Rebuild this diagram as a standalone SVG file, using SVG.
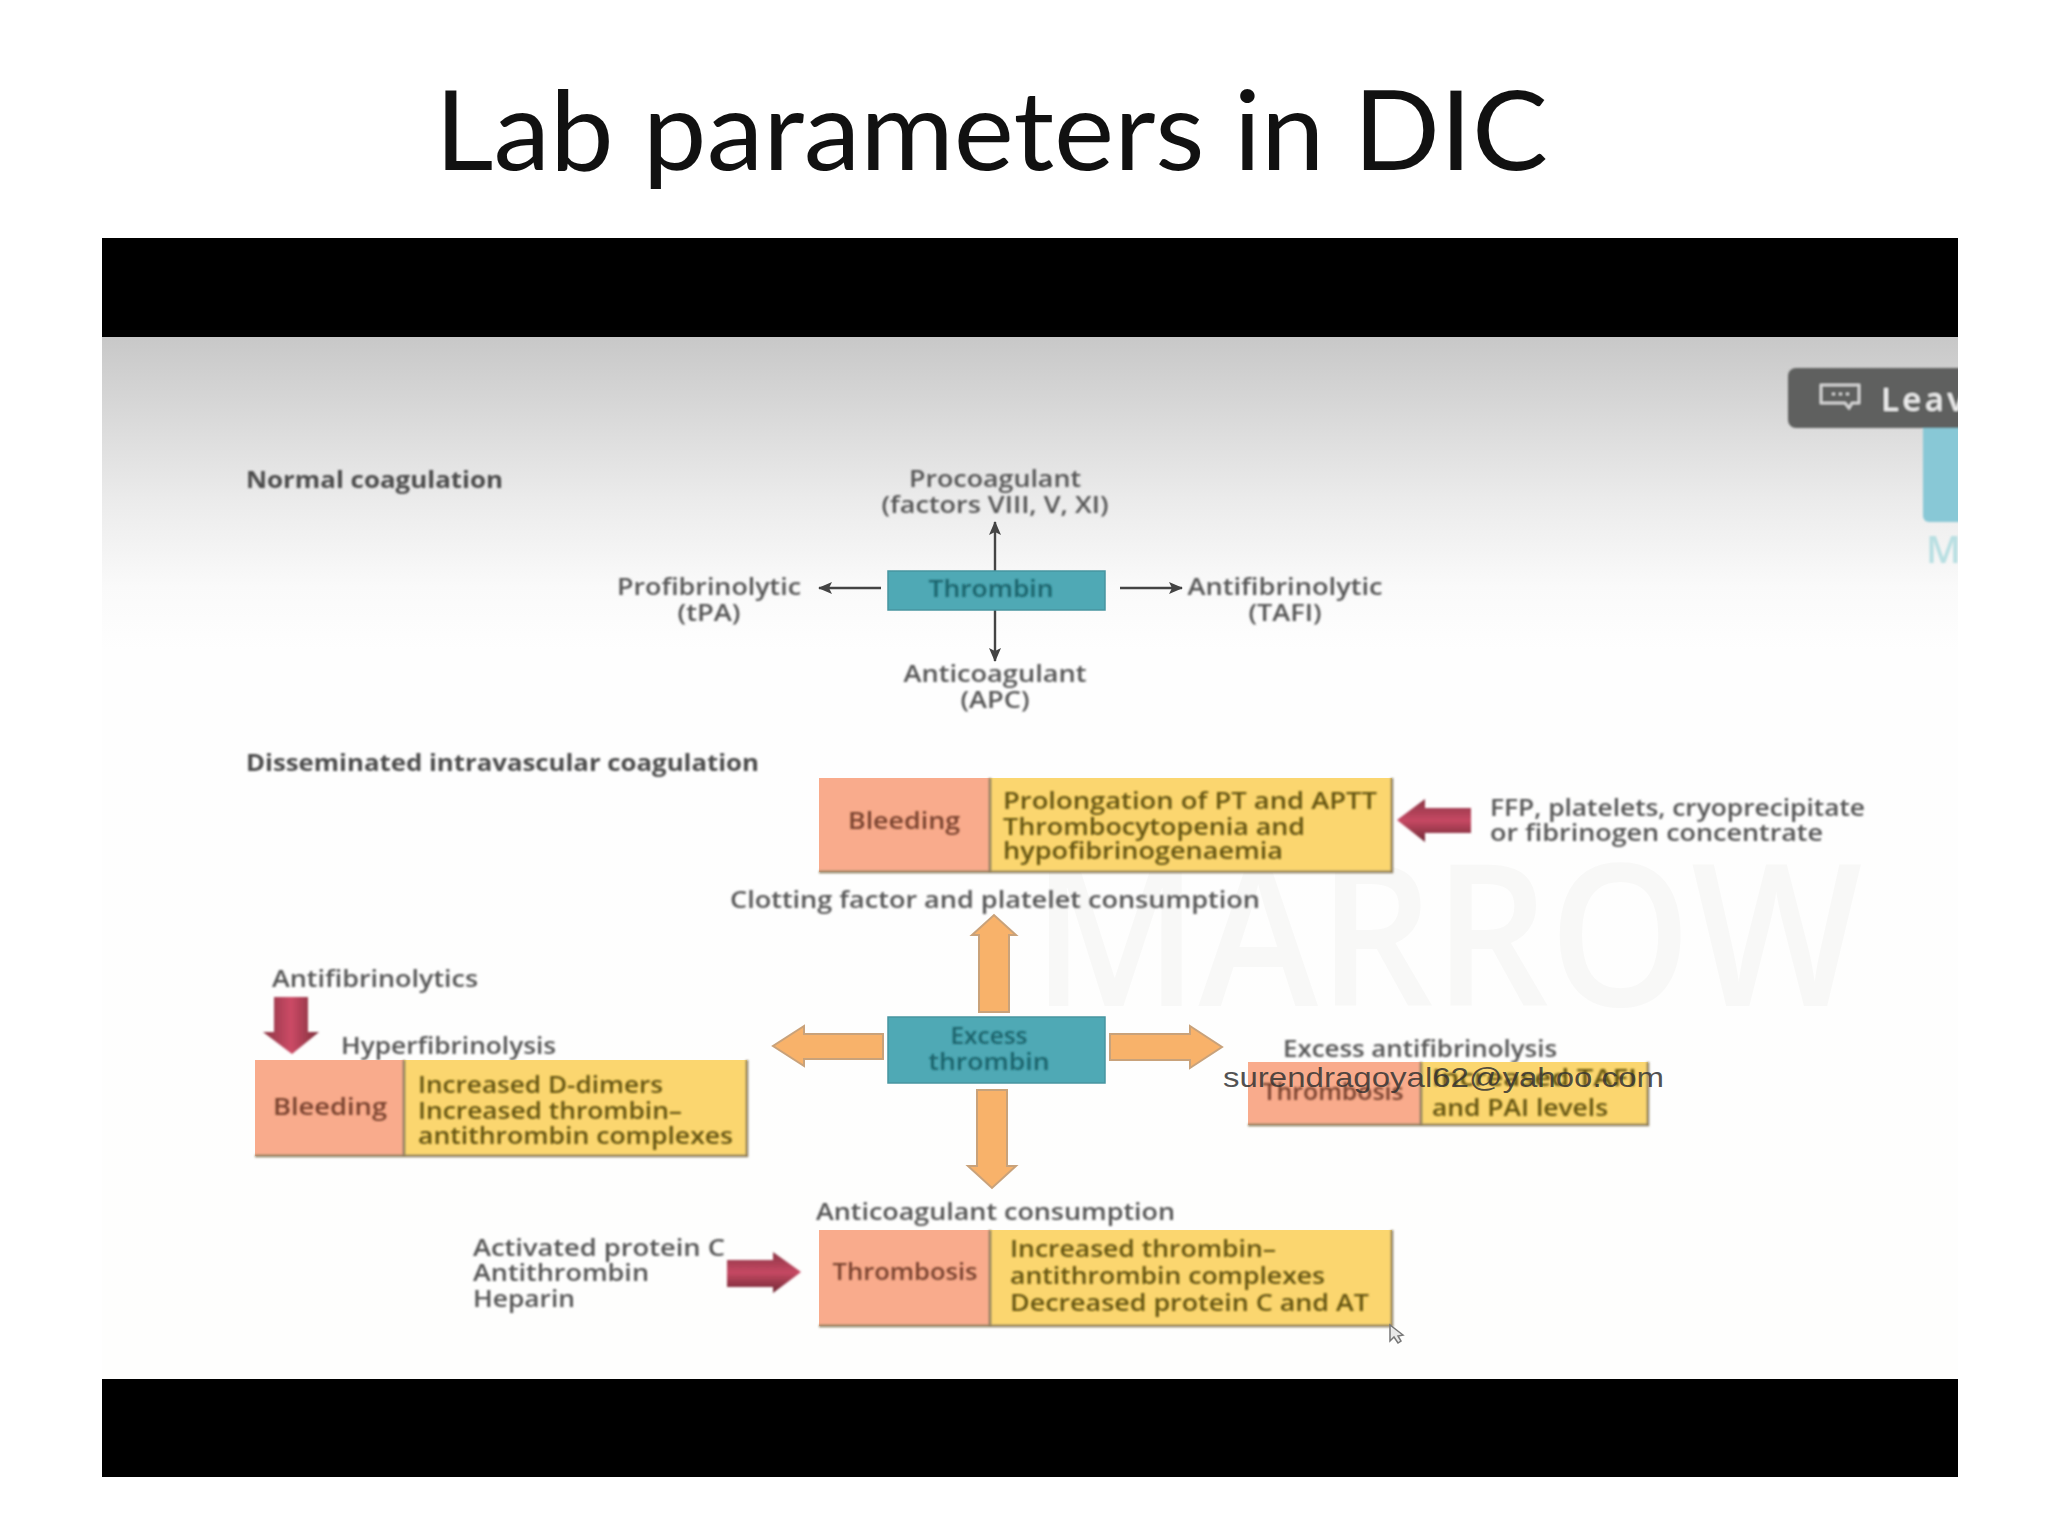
<svg xmlns="http://www.w3.org/2000/svg" width="2048" height="1536" viewBox="0 0 2048 1536">
<style>
.t{font-family:"Open Sans","Liberation Sans",sans-serif;font-size:24px;font-weight:600;fill:#555;filter:url(#soft)}
.h{font-weight:700;fill:#4c4c4c}
.m{text-anchor:middle}
.y{fill:#655510}
.s{fill:#79432f}
.c{fill:#1a646c}
.sal{fill:#f9ab8c}
.yel{fill:#fbd66f}
.teal{fill:#4fa9b5;stroke:#4795a0;stroke-width:1.5}
.edge{stroke:#8f8060;stroke-width:2.5;fill:none;filter:url(#soft2)}
.or{fill:#f8b26a;stroke:#c9a27a;stroke-width:2}
.thin{stroke:#444;stroke-width:2.4;fill:none;marker-end:url(#tip)}
</style>
<defs>
<filter id="soft" x="-5%" y="-20%" width="110%" height="140%"><feGaussianBlur stdDeviation="0.9"/></filter>
<filter id="soft2" x="-5%" y="-5%" width="110%" height="110%"><feGaussianBlur stdDeviation="0.8"/></filter>
<marker id="tip" markerUnits="userSpaceOnUse" markerWidth="14" markerHeight="12" refX="13" refY="6" orient="auto"><path d="M0 0L14 6L0 12L3 6Z" fill="#444"/></marker>
<linearGradient id="bg" x1="0" y1="337" x2="0" y2="1379" gradientUnits="userSpaceOnUse">
<stop offset="0" stop-color="#c8c8c8"/><stop offset="0.16" stop-color="#ececec"/><stop offset="0.24" stop-color="#fafafa"/><stop offset="0.3" stop-color="#fefefe"/><stop offset="1" stop-color="#fefefd"/></linearGradient>
<linearGradient id="redH" x1="0" y1="0" x2="1" y2="0"><stop offset="0" stop-color="#8a3644"/><stop offset="0.5" stop-color="#cc4a66"/><stop offset="1" stop-color="#7c2f3a"/></linearGradient>
<linearGradient id="redV" x1="0" y1="0" x2="0" y2="1"><stop offset="0" stop-color="#8a3644"/><stop offset="0.5" stop-color="#c64863"/><stop offset="1" stop-color="#6e2a34"/></linearGradient>
<clipPath id="frame"><rect x="102" y="238" width="1856" height="1239"/></clipPath>
</defs>
<rect width="2048" height="1536" fill="#fff"/>
<text id="title" x="435" y="170" font-family="Lato,'Liberation Sans',sans-serif" font-size="110" fill="#111" textLength="1113" lengthAdjust="spacingAndGlyphs">Lab parameters in DIC</text>
<g id="screen">
<rect x="102" y="238" width="1856" height="1239" fill="#000"/>
<rect x="102" y="337" width="1856" height="1042" fill="url(#bg)"/>
</g>
<g clip-path="url(#frame)">
<text id="watermark" x="1032" y="1006" font-family="'Open Sans',sans-serif" font-size="198" font-weight="600" fill="#f8f8f7" textLength="830" lengthAdjust="spacingAndGlyphs">MARROW</text>
<g id="video-overlay" filter="url(#soft2)">
<rect x="1923" y="420" width="60" height="102" rx="6" fill="#88c8d6"/>
<text x="1926" y="563" font-family="'Open Sans',sans-serif" font-size="38" font-weight="600" fill="#b8dfe2">M</text>
<rect x="1788" y="368" width="220" height="60" rx="8" fill="#5f615f"/>
<path d="M1821 385H1859V403H1852L1849 408L1845 403H1821Z" fill="none" stroke="#dcdcdc" stroke-width="2.5"/>
<path d="M1832 394h3M1839 394h3M1846 394h3" stroke="#dcdcdc" stroke-width="2.5"/>
<text x="1881" y="411" font-family="'Open Sans',sans-serif" font-size="33" font-weight="600" fill="#ececec" textLength="84" lengthAdjust="spacing">Leav</text>
</g>
</g>
<g id="connectors">
<path class="thin" d="M995 571V522"/>
<path class="thin" d="M881 588H819"/>
<path class="thin" d="M1120 588H1182"/>
<path class="thin" d="M995 610V661"/>
<path class="or" d="M979 1012V935H972L994 915L1016 935H1009V1012Z"/>
<path class="or" d="M883 1034H804V1026L773 1046L804 1066V1059H883Z"/>
<path class="or" d="M1110 1034H1190V1026L1222 1047L1190 1068V1060H1110Z"/>
<path class="or" d="M977 1090H1007V1166H1016L992 1188L968 1166H977Z"/>
<path fill="url(#redV)" filter="url(#soft2)" d="M1397 820L1425 799V808H1471V833H1425V842Z"/>
<path fill="url(#redH)" filter="url(#soft2)" d="M274 997H308V1032H319L292 1054L263 1032H274Z"/>
<path fill="url(#redV)" filter="url(#soft2)" d="M727 1260H773V1252L801 1272L773 1293V1287H727Z"/>
</g>
<g id="normal-heading"><text class="t h" x="246" y="488" textLength="257" lengthAdjust="spacingAndGlyphs">Normal coagulation</text></g>
<g id="procoagulant"><text class="t m" x="995" y="487" textLength="172" lengthAdjust="spacingAndGlyphs">Procoagulant</text><text class="t m" x="995" y="513" textLength="227" lengthAdjust="spacingAndGlyphs">(factors VIII, V, XI)</text></g>
<g id="thrombin"><rect class="teal" x="888" y="571" width="217" height="39"/><text class="t m c" x="991" y="597" textLength="125" lengthAdjust="spacingAndGlyphs">Thrombin</text></g>
<g id="profibrinolytic"><text class="t m" x="709" y="595" textLength="184" lengthAdjust="spacingAndGlyphs">Profibrinolytic</text><text class="t m" x="709" y="621" textLength="63" lengthAdjust="spacingAndGlyphs">(tPA)</text></g>
<g id="antifibrinolytic"><text class="t m" x="1285" y="595" textLength="195" lengthAdjust="spacingAndGlyphs">Antifibrinolytic</text><text class="t m" x="1285" y="621" textLength="73" lengthAdjust="spacingAndGlyphs">(TAFI)</text></g>
<g id="anticoagulant"><text class="t m" x="995" y="682" textLength="183" lengthAdjust="spacingAndGlyphs">Anticoagulant</text><text class="t m" x="995" y="708" textLength="69" lengthAdjust="spacingAndGlyphs">(APC)</text></g>
<g id="dic-heading"><text class="t h" x="246" y="771" textLength="513" lengthAdjust="spacingAndGlyphs">Disseminated intravascular coagulation</text></g>
<g id="box-top">
<rect class="sal" x="819" y="778" width="171" height="94"/><rect class="yel" x="990" y="778" width="402" height="94"/>
<path class="edge" d="M990 778V872M819 872H1392V778"/>
<text class="t m s" x="904" y="829" textLength="112" lengthAdjust="spacingAndGlyphs">Bleeding</text>
<text class="t y" x="1003" y="809" textLength="374" lengthAdjust="spacingAndGlyphs">Prolongation of PT and APTT</text>
<text class="t y" x="1003" y="835" textLength="302" lengthAdjust="spacingAndGlyphs">Thrombocytopenia and</text>
<text class="t y" x="1003" y="859" textLength="280" lengthAdjust="spacingAndGlyphs">hypofibrinogenaemia</text>
</g>
<g id="ffp"><text class="t" x="1490" y="816" textLength="375" lengthAdjust="spacingAndGlyphs">FFP, platelets, cryoprecipitate</text><text class="t" x="1490" y="841" textLength="333" lengthAdjust="spacingAndGlyphs">or fibrinogen concentrate</text></g>
<g id="clotting"><text class="t" x="730" y="908" textLength="530" lengthAdjust="spacingAndGlyphs">Clotting factor and platelet consumption</text></g>
<g id="excess-thrombin"><rect class="teal" x="888" y="1017" width="217" height="66"/><text class="t m c" x="989" y="1044" textLength="77" lengthAdjust="spacingAndGlyphs">Excess</text><text class="t m c" x="989" y="1070" textLength="121" lengthAdjust="spacingAndGlyphs">thrombin</text></g>
<g id="antifibrinolytics"><text class="t" x="272" y="987" textLength="206" lengthAdjust="spacingAndGlyphs">Antifibrinolytics</text></g>
<g id="hyperfibrinolysis"><text class="t" x="341" y="1054" textLength="215" lengthAdjust="spacingAndGlyphs">Hyperfibrinolysis</text></g>
<g id="box-left">
<rect class="sal" x="255" y="1060" width="149" height="96"/><rect class="yel" x="404" y="1060" width="343" height="96"/>
<path class="edge" d="M404 1060V1156M255 1156H747V1060"/>
<text class="t m s" x="330" y="1115" textLength="114" lengthAdjust="spacingAndGlyphs">Bleeding</text>
<text class="t y" x="418" y="1093" textLength="245" lengthAdjust="spacingAndGlyphs">Increased D-dimers</text>
<text class="t y" x="418" y="1119" textLength="264" lengthAdjust="spacingAndGlyphs">Increased thrombin–</text>
<text class="t y" x="418" y="1144" textLength="315" lengthAdjust="spacingAndGlyphs">antithrombin complexes</text>
</g>
<g id="excess-antifibrinolysis"><text class="t" x="1283" y="1057" textLength="274" lengthAdjust="spacingAndGlyphs">Excess antifibrinolysis</text></g>
<g id="box-right">
<rect class="sal" x="1248" y="1062" width="173" height="63"/><rect class="yel" x="1421" y="1062" width="227" height="63"/>
<path class="edge" d="M1421 1062V1125M1248 1125H1648V1062"/>
<text class="t m s" x="1333" y="1100" textLength="141" lengthAdjust="spacingAndGlyphs">Thrombosis</text>
<text class="t y" x="1432" y="1086" textLength="205" lengthAdjust="spacingAndGlyphs">Increased TAFI</text>
<text class="t y" x="1432" y="1116" textLength="176" lengthAdjust="spacingAndGlyphs">and PAI levels</text>
</g>
<g id="anticoagulant-consumption"><text class="t" x="816" y="1220" textLength="359" lengthAdjust="spacingAndGlyphs">Anticoagulant consumption</text></g>
<g id="box-bottom">
<rect class="sal" x="819" y="1230" width="171" height="96"/><rect class="yel" x="990" y="1230" width="402" height="96"/>
<path class="edge" d="M990 1230V1326M819 1326H1392V1230"/>
<text class="t m s" x="905" y="1280" textLength="145" lengthAdjust="spacingAndGlyphs">Thrombosis</text>
<text class="t y" x="1010" y="1257" textLength="266" lengthAdjust="spacingAndGlyphs">Increased thrombin–</text>
<text class="t y" x="1010" y="1284" textLength="315" lengthAdjust="spacingAndGlyphs">antithrombin complexes</text>
<text class="t y" x="1010" y="1311" textLength="359" lengthAdjust="spacingAndGlyphs">Decreased protein C and AT</text>
</g>
<g id="activated"><text class="t" x="473" y="1256" textLength="252" lengthAdjust="spacingAndGlyphs">Activated protein C</text><text class="t" x="473" y="1281" textLength="176" lengthAdjust="spacingAndGlyphs">Antithrombin</text><text class="t" x="473" y="1307" textLength="102" lengthAdjust="spacingAndGlyphs">Heparin</text></g>
<path id="cursor" d="M1390 1325L1390 1341L1394 1337L1398 1343L1401 1341L1398 1336L1403 1335Z" fill="#e8e8e8" stroke="#777" stroke-width="1.5"/>
<text id="email" x="1223" y="1087" font-family="'Liberation Sans',Arial,sans-serif" font-size="28" fill="#333" fill-opacity="0.85" textLength="441" lengthAdjust="spacingAndGlyphs">surendragoyal62@yahoo.com</text>
</svg>
